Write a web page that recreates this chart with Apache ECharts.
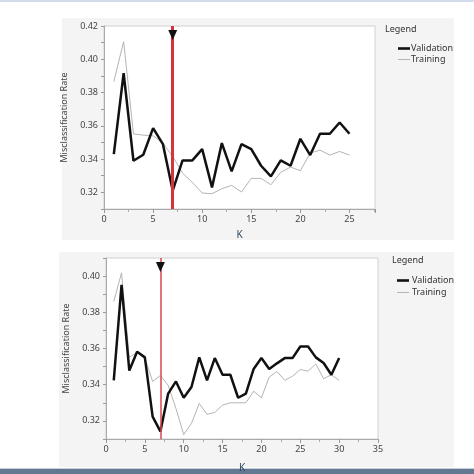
<!DOCTYPE html>
<html>
<head>
<meta charset="utf-8">
<script src="https://cdn.jsdelivr.net/npm/echarts@6/dist/echarts.min.js"></script>
<style>
  html, body { margin: 0; padding: 0; background: #fff; }
  #chart { width: 474px; height: 474px; }
</style>
</head>
<body>
<div id="chart"></div>
<script>
// 上图 K = 1..25
const kTop = [1, 2, 3, 4, 5, 6, 7, 8, 9, 10, 11, 12, 13, 14, 15, 16, 17, 18, 19, 20, 21, 22, 23, 24, 25]
const validTop = [0.343, 0.3916, 0.339, 0.3426, 0.3586, 0.349, 0.321, 0.3392, 0.3392, 0.346, 0.323, 0.3496, 0.3326,
  0.349, 0.346, 0.336, 0.3296, 0.3392, 0.336, 0.3522, 0.3424, 0.3552, 0.3552, 0.362, 0.3552]
const trainTop = [0.3866, 0.4106, 0.3552, 0.3544, 0.354, 0.3496, 0.3416, 0.3316, 0.326, 0.3196, 0.3192, 0.3222, 0.3242,
  0.3202, 0.3284, 0.3284, 0.3246, 0.332, 0.3352, 0.333, 0.3436, 0.3454, 0.3424, 0.3446, 0.3424]

// 下图 K = 1..30
const kBottom = [1, 2, 3, 4, 5, 6, 7, 8, 9, 10, 11, 12, 13, 14, 15, 16, 17, 18, 19, 20, 21, 22, 23, 24, 25, 26, 27, 28, 29, 30]
const validBottom = [0.3424, 0.3951, 0.3478, 0.3582, 0.3551, 0.3224, 0.3142, 0.3351, 0.3418, 0.3328, 0.3387, 0.3551,
  0.3424, 0.3547, 0.3455, 0.3455, 0.3328, 0.3351, 0.3487, 0.3547, 0.3487, 0.3518, 0.3547, 0.3547, 0.3611, 0.3611,
  0.3551, 0.352, 0.3455, 0.3547]
const trainBottom = [0.386, 0.4018, 0.3551, 0.3578, 0.3546, 0.3418, 0.3451, 0.3396, 0.3269, 0.3124, 0.3187, 0.3296,
  0.3236, 0.3247, 0.3287, 0.33, 0.33, 0.33, 0.3364, 0.3328, 0.3442, 0.3473, 0.3424, 0.3447, 0.3484, 0.3475, 0.3515,
  0.3433, 0.3455, 0.3424]

const bestK = 7

const font = 'Noto Sans'
const labelColor = '#444'

const pairs = (ks, vals) => ks.map((k, i) => [k, vals[i]])

// 图例图标：粗线 / 细线（M点用来撑开包围盒）
const legendData = [
  { name: 'Validation', icon: 'path://M0,0 M12,6 M0,1.7 H12 V4.3 H0 Z' },
  { name: 'Training', icon: 'path://M0,0 M12,6 M0,2.5 H12 V3.5 H0 Z' }
]

const xAxisBase = (gridIndex, max) => ({
  type: 'value',
  gridIndex,
  min: 0,
  max,
  interval: 5,
  name: 'K',
  nameLocation: 'middle',
  nameGap: gridIndex === 0 ? 21 : 24,
  nameTextStyle: { fontFamily: font, fontSize: 10, color: '#2e4a5c' },
  axisLine: { lineStyle: { color: '#aaa' } },
  axisTick: { lineStyle: { color: '#999' }, length: 4 },
  minorTick: { show: true, splitNumber: 2, length: 3, lineStyle: { color: '#aaa' } },
  axisLabel: { fontFamily: font, fontSize: 9, color: labelColor, showMaxLabel: gridIndex === 1, margin: 6 },
  splitLine: { show: false }
})

const yAxisBase = (gridIndex, min, max) => ({
  type: 'value',
  gridIndex,
  min,
  max,
  interval: 0.01,
  name: 'Misclassification Rate',
  nameLocation: 'middle',
  nameGap: 33,
  nameTextStyle: { fontFamily: font, fontSize: 9, color: labelColor },
  axisLine: { show: true, lineStyle: { color: '#aaa' } },
  axisTick: { show: true, lineStyle: { color: '#999' }, length: 3 },
  axisLabel: {
    fontFamily: font,
    fontSize: 9,
    color: labelColor,
    margin: 6,
    formatter: v => (Math.round(v * 100) % 2 === 0 ? v.toFixed(2) : '')
  },
  splitLine: { show: false }
})

// K=7 的红线 + 顶部倒三角
const bestMarks = (width, color, yTop) => ({
  markLine: {
    silent: true,
    symbol: ['none', 'none'],
    label: { show: false },
    lineStyle: { color, width, type: 'solid' },
    data: [{ xAxis: bestK }]
  },
  markPoint: {
    silent: true,
    symbol: 'path://M0,0 L10,0 L5,10 Z',
    symbolSize: [9, 10],
    symbolOffset: [0, 9],
    itemStyle: { color: '#111' },
    label: { show: false },
    data: [{ coord: [bestK, yTop] }]
  }
})

const chart = echarts.init(document.getElementById('chart'))
chart.setOption({
  animation: false,
  backgroundColor: '#fff',
  graphic: [
    { type: 'rect', z: -10, silent: true, shape: { x: 0, y: 0, width: 474, height: 2 }, style: { fill: '#d3dcea' } },
    { type: 'rect', z: -10, silent: true, shape: { x: 62, y: 18, width: 392, height: 222 }, style: { fill: '#f4f4f4' } },
    { type: 'rect', z: -10, silent: true, shape: { x: 59, y: 252, width: 395, height: 215 }, style: { fill: '#f4f4f4' } },
    { type: 'rect', z: -10, silent: true, shape: { x: 0, y: 468, width: 474, height: 1 }, style: { fill: '#c4cedc' } },
    { type: 'rect', z: -10, silent: true, shape: { x: 0, y: 469, width: 474, height: 5 }, style: { fill: '#647892' } },
    { type: 'text', left: 385, top: 25, style: { text: 'Legend', font: '9px "Noto Sans"', fill: '#333' } },
    { type: 'text', left: 392, top: 256, style: { text: 'Legend', font: '9px "Noto Sans"', fill: '#333' } }
  ],
  grid: [
    { left: 104, top: 26, right: 99, bottom: 265, show: true, backgroundColor: '#fff', borderColor: '#d0d0d0', borderWidth: 1 },
    { left: 106, top: 258, right: 96, bottom: 33, show: true, backgroundColor: '#fff', borderColor: '#d0d0d0', borderWidth: 1 }
  ],
  legend: [
    {
      data: legendData,
      orient: 'vertical',
      left: 393,
      top: 39,
      itemWidth: 12,
      itemHeight: 6,
      itemGap: 2,
      selectedMode: false,
      textStyle: { fontFamily: font, fontSize: 9, color: '#333', padding: [0, 0, 0, -4] }
    },
    {
      data: legendData,
      orient: 'vertical',
      left: 392,
      top: 271,
      itemWidth: 14,
      itemHeight: 6,
      itemGap: 3,
      selectedMode: false,
      textStyle: { fontFamily: font, fontSize: 9, color: '#333', padding: [0, 0, 0, -3] }
    }
  ],
  xAxis: [xAxisBase(0, 27.6), xAxisBase(1, 35)],
  yAxis: [yAxisBase(0, 0.31, 0.42), yAxisBase(1, 0.31, 0.41)],
  series: [
    {
      name: 'Training',
      type: 'line',
      xAxisIndex: 0,
      yAxisIndex: 0,
      data: pairs(kTop, trainTop),
      symbol: 'none',
      lineStyle: { color: '#b4b4b4', width: 1 },
      itemStyle: { color: '#b4b4b4' },
      z: 3
    },
    {
      name: 'Validation',
      type: 'line',
      xAxisIndex: 0,
      yAxisIndex: 0,
      data: pairs(kTop, validTop),
      symbol: 'none',
      lineStyle: { color: '#111', width: 2.5 },
      itemStyle: { color: '#111' },
      z: 4,
      ...bestMarks(3, '#d8323c', 0.42)
    },
    {
      name: 'Training',
      type: 'line',
      xAxisIndex: 1,
      yAxisIndex: 1,
      data: pairs(kBottom, trainBottom),
      symbol: 'none',
      lineStyle: { color: '#b4b4b4', width: 1 },
      itemStyle: { color: '#b4b4b4' },
      z: 3
    },
    {
      name: 'Validation',
      type: 'line',
      xAxisIndex: 1,
      yAxisIndex: 1,
      data: pairs(kBottom, validBottom),
      symbol: 'none',
      lineStyle: { color: '#111', width: 2.5 },
      itemStyle: { color: '#111' },
      z: 4,
      ...bestMarks(1.5, '#d9474f', 0.41)
    }
  ]
})
</script>
</body>
</html>
